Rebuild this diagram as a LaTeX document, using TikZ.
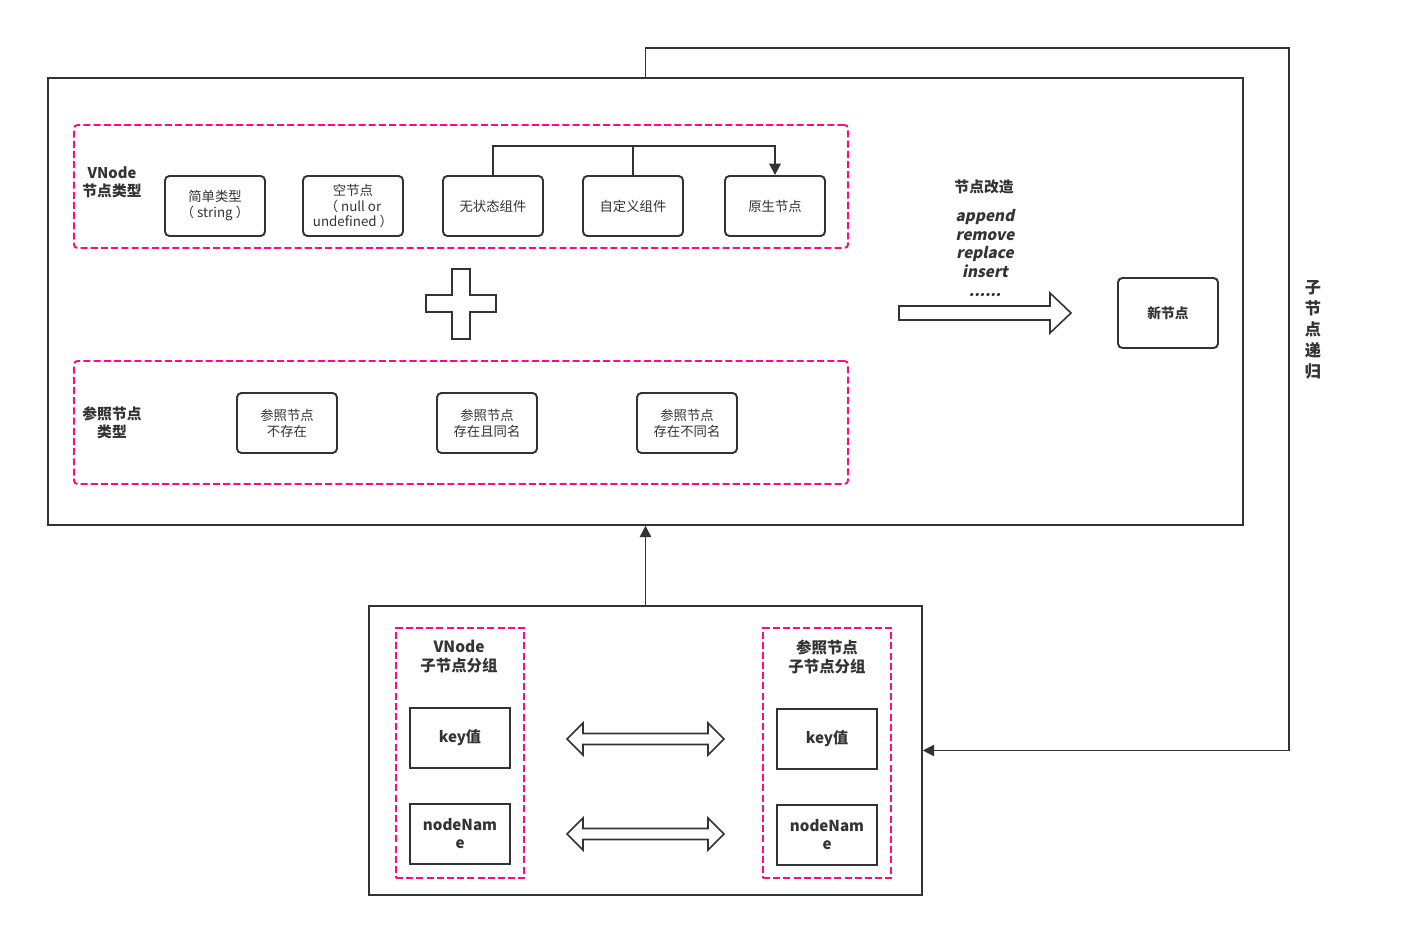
\documentclass[tikz,border=0pt]{standalone}
\usepackage{fontspec}
\setmainfont{Noto Sans CJK SC}
\newfontfamily\opfont{Noto Sans CJK SC}[FakeSlant=0.2]
\usepackage{tikz}
\usetikzlibrary{arrows.meta,positioning,fit}
\definecolor{DiffInk}{HTML}{333333}
\definecolor{DiffPink}{HTML}{FF0A84}
\tikzset{
  difftext/.style={text=DiffInk, font=\fontsize{7.6}{9.1}\selectfont},
  diffbold/.style={text=DiffInk, font=\bfseries\fontsize{8.4}{10.4}\selectfont, align=center},
  typebox/.style={draw=DiffInk, line width=1.1pt, rounded corners=2.5pt, fill=white, minimum width=2cm, minimum height=1.2cm, align=center, difftext},
  keybox/.style={draw=DiffInk, line width=1.1pt, fill=white, minimum width=2cm, minimum height=1.2cm, align=center, text=DiffInk, font=\bfseries\fontsize{8.6}{10.2}\selectfont},
  groupbox/.style={draw=DiffPink, line width=1.1pt, dash pattern=on 4pt off 1.8pt, inner sep=0pt},
  framebox/.style={draw=DiffInk, line width=0.9pt, inner sep=0pt},
  diffline/.style={draw=DiffInk, line width=1.1pt},
  diffarrow/.style={diffline, -{Triangle[length=6.5pt,width=6.5pt]}},
  hollow/.style={draw=DiffInk, line width=0.9pt, fill=white, line join=miter}
}
\begin{document}
\begin{tikzpicture}[x=0.02cm, y=-0.02cm]
\useasboundingbox (0,0) rectangle (1426,928);
% outer frames
\node[framebox, fit={(48,78) (1243,525)}] (main) {};
\node[framebox, fit={(369,606) (922,895)}] (kids) {};
% vnode types
\node[groupbox, rounded corners=2pt, fit={(74,125) (848,248)}] (vgroup) {};
\node[diffbold] (vlabel) at (112,182) {VNode\\节点类型};
\node[typebox] (simple) at (215,206) {简单类型\\（ string ）};
\node[typebox] (empty) at (353,206) {空节点\\（ null or\\undefined ）};
\node[typebox] (stateless) at (493,206) {无状态组件};
\node[typebox] (custom) at (633,206) {自定义组件};
\node[typebox] (native) at (775,206) {原生节点};
\coordinate (bar) at (633,146);
\draw[diffarrow] (stateless.north) |- (bar) -| (native.north);
\draw[diffline] (custom.north) -- (bar);
% plus
\draw[hollow] (452,269) -- (470,269) -- (470,295) -- (496,295) -- (496,312) -- (470,312) -- (470,339)
  -- (452,339) -- (452,312) -- (426,312) -- (426,295) -- (452,295) -- cycle;
% reference types
\node[groupbox, rounded corners=2pt, fit={(74,361) (848,484)}] (rgroup) {};
\node[diffbold] (rlabel) at (112,423) {参照节点\\类型};
\node[typebox] (missing) at (287,423) {参照节点\\不存在};
\node[typebox] (same) at (487,423) {参照节点\\存在且同名};
\node[typebox] (other) at (687,423) {参照节点\\存在不同名};
% patch ops
\node[diffbold] (patch) at (984,187) {节点改造};
\node[text=DiffInk, font=\opfont\bfseries\fontsize{8.7}{10.8}\selectfont, align=center] (ops) at (985,253) {append\\remove\\replace\\insert\\......};
\draw[hollow] (899,306) -- (1050,306) -- (1050,293) -- (1071,313) -- (1050,333) -- (1050,320) -- (899,320) -- cycle;
\node[typebox, minimum height=1.4cm, font=\bfseries\fontsize{7.8}{9}\selectfont] (fresh) at (1168,313) {新节点};
% children
\node[groupbox, fit={(396,628) (524,878)}] (vkids) {};
\node[groupbox, fit={(763,628) (891,878)}] (rkids) {};
\node[diffbold, font=\bfseries\fontsize{8.8}{10.8}\selectfont] (vtitle) at (459,657) {VNode\\子节点分组};
\node[diffbold, font=\bfseries\fontsize{8.8}{10.8}\selectfont] (rtitle) at (827,657) {参照节点\\子节点分组};
\node[keybox] (vkey) at (460,738) {key值};
\node[keybox] (vname) at (460,834) {nodeNam\\e};
\node[keybox] (rkey) at (827,739) {key值};
\node[keybox] (rname) at (827,835) {nodeNam\\e};
\foreach \c in {739,834}{
  \draw[hollow] (567,\c) -- (583,\c-16) -- (583,\c-5.5) -- (708,\c-5.5) -- (708,\c-16) -- (724,\c)
    -- (708,\c+16) -- (708,\c+5.5) -- (583,\c+5.5) -- (583,\c+16) -- cycle;
}
% connectors
\draw[diffarrow, line width=0.9pt] (kids.north) -- (main.south);
\coordinate (loop) at (1289,48);
\draw[diffarrow, line width=0.9pt] (main.north) |- (loop) |- (kids.east);
\node[diffbold, font=\bfseries\fontsize{9.2}{11.9}\selectfont] (recur) at (1313,330) {子\\节\\点\\递\\归};
\end{tikzpicture}
\end{document}
